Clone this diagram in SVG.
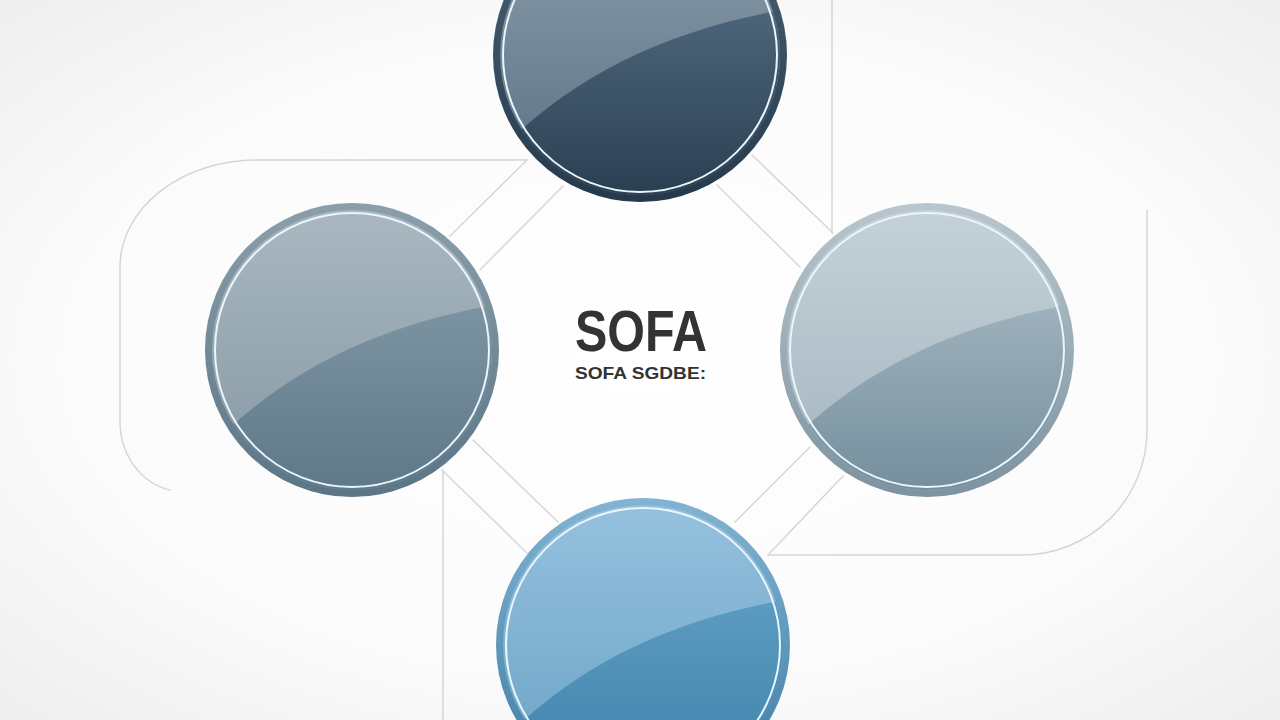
<svg xmlns="http://www.w3.org/2000/svg" width="1280" height="720" viewBox="0 0 1280 720">
<defs>
<radialGradient id="bg" cx="0.5" cy="0.5" r="0.75">
<stop offset="0" stop-color="#ffffff"/>
<stop offset="0.6" stop-color="#fbfbfb"/>
<stop offset="1" stop-color="#ececec"/>
</radialGradient>
<clipPath id="inner"><circle cx="0" cy="0" r="140"/></clipPath>
<linearGradient id="topRing" x1="0" y1="0" x2="0" y2="1"><stop offset="0" stop-color="#4c6478"/><stop offset="1" stop-color="#26394b"/></linearGradient>
<linearGradient id="topUp" x1="0" y1="0" x2="0" y2="1"><stop offset="0" stop-color="#8a9dab"/><stop offset="1" stop-color="#5a7083"/></linearGradient>
<linearGradient id="topLo" x1="0" y1="0" x2="0" y2="1"><stop offset="0" stop-color="#4d667b"/><stop offset="1" stop-color="#283b4e"/></linearGradient>
<linearGradient id="leftRing" x1="0" y1="0" x2="0" y2="1"><stop offset="0" stop-color="#8a9faa"/><stop offset="1" stop-color="#5b7586"/></linearGradient>
<linearGradient id="leftUp" x1="0" y1="0" x2="0" y2="1"><stop offset="0" stop-color="#a9b8c0"/><stop offset="1" stop-color="#8698a5"/></linearGradient>
<linearGradient id="leftLo" x1="0" y1="0" x2="0" y2="1"><stop offset="0" stop-color="#7d94a2"/><stop offset="1" stop-color="#5b7687"/></linearGradient>
<linearGradient id="rightRing" x1="0" y1="0" x2="0" y2="1"><stop offset="0" stop-color="#b9c6cd"/><stop offset="1" stop-color="#7d93a0"/></linearGradient>
<linearGradient id="rightUp" x1="0" y1="0" x2="0" y2="1"><stop offset="0" stop-color="#c4d1d8"/><stop offset="1" stop-color="#a4b5bf"/></linearGradient>
<linearGradient id="rightLo" x1="0" y1="0" x2="0" y2="1"><stop offset="0" stop-color="#9fb2bd"/><stop offset="1" stop-color="#718b9a"/></linearGradient>
<linearGradient id="botRing" x1="0" y1="0" x2="0" y2="1"><stop offset="0" stop-color="#82b3d2"/><stop offset="1" stop-color="#3c7ca3"/></linearGradient>
<linearGradient id="botUp" x1="0" y1="0" x2="0" y2="1"><stop offset="0" stop-color="#95c1de"/><stop offset="1" stop-color="#6aa2c4"/></linearGradient>
<linearGradient id="botLo" x1="0" y1="0" x2="0" y2="1"><stop offset="0" stop-color="#5d9cc2"/><stop offset="1" stop-color="#3a7ea7"/></linearGradient>
<path id="lower" d="M -150 105 C -70 20, 30 -28, 160 -48 L 160 160 L -160 160 Z"/>
</defs>
<style>
.conn{fill:none;stroke:#d6d6d6;stroke-width:1.5;stroke-linecap:round}
.hl{fill:none;stroke:#eaf6fc;stroke-width:2}
.title{font-family:"Liberation Sans",Arial,sans-serif;font-weight:bold;fill:#333333}
</style>
<rect width="1280" height="720" fill="url(#bg)"/>
<g id="connectors">
<path class="conn" d="M 527 160 L 257 160 A 137 107 0 0 0 120 267 L 120 423 A 62 70 0 0 0 170 490"/>
<line class="conn" x1="527" y1="160" x2="450" y2="236"/>
<line class="conn" x1="563" y1="186" x2="480" y2="270"/>
<line class="conn" x1="752" y1="155" x2="833" y2="233"/>
<line class="conn" x1="717" y1="185" x2="800" y2="267"/>
<line class="conn" x1="832" y1="0" x2="832" y2="233"/>
<path class="conn" d="M 1147 210 L 1147 430 A 125 125 0 0 1 1022 555 L 768 555"/>
<line class="conn" x1="810" y1="447" x2="735" y2="522"/>
<line class="conn" x1="843" y1="476" x2="768" y2="555"/>
<line class="conn" x1="442" y1="470" x2="527" y2="553"/>
<line class="conn" x1="473" y1="440" x2="558" y2="522"/>
<line class="conn" x1="443" y1="470" x2="443" y2="720"/>
</g>
<g id="node-top" transform="translate(640,55)">
<circle r="147" fill="url(#topRing)"/>
<circle r="140" fill="url(#topUp)"/>
<use href="#lower" fill="url(#topLo)" clip-path="url(#inner)"/>
<circle r="137" class="hl"/>
</g>
<g id="node-left" transform="translate(352,350)">
<circle r="147" fill="url(#leftRing)"/>
<circle r="140" fill="url(#leftUp)"/>
<use href="#lower" fill="url(#leftLo)" clip-path="url(#inner)"/>
<circle r="137" class="hl"/>
</g>
<g id="node-right" transform="translate(927,350)">
<circle r="147" fill="url(#rightRing)"/>
<circle r="140" fill="url(#rightUp)"/>
<use href="#lower" fill="url(#rightLo)" clip-path="url(#inner)"/>
<circle r="137" class="hl"/>
</g>
<g id="node-bottom" transform="translate(643,645)">
<circle r="147" fill="url(#botRing)"/>
<circle r="140" fill="url(#botUp)"/>
<use href="#lower" fill="url(#botLo)" clip-path="url(#inner)"/>
<circle r="137" class="hl"/>
</g>
<g id="center-label">
<text class="title" x="575" y="351" font-size="57" textLength="132" lengthAdjust="spacingAndGlyphs">SOFA</text>
<text class="title" x="575" y="379" font-size="17" textLength="131" lengthAdjust="spacingAndGlyphs">SOFA SGDBE:</text>
</g>
</svg>
